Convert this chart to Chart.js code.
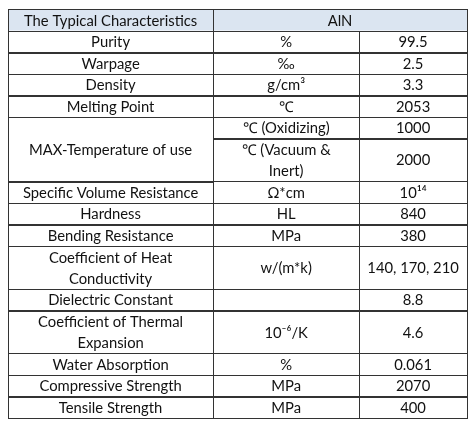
<!DOCTYPE html>
<html><head><meta charset="utf-8">
<script src="https://cdn.jsdelivr.net/npm/chart.js@4"></script>
<style>html,body{margin:0;padding:0;background:#fff}#w{width:474px;height:424px}</style>
</head><body><div id="w"><canvas id="c"></canvas></div>
<script>
const headers = ["The Typical Characteristics", "AlN"];
const propNames = [["Purity"],["Warpage"],["Density"],["Melting Point"],["MAX-Temperature of use"],["Specific Volume Resistance"],["Hardness"],["Bending Resistance"],["Coefficient of Heat","Conductivity"],["Dielectric Constant"],["Coefficient of Thermal","Expansion"],["Water Absorption"],["Compressive Strength"],["Tensile Strength"]];
const propSpans = [1,1,1,1,3,1,1,1,2,1,2,1,1,1];
const units = [["%"],["‰"],["g/cm³"],["℃"],["℃ (Oxidizing)"],["℃ (Vacuum &","Inert)"],["Ω*cm"],["HL"],["MPa"],["w/(m*k)"],[""],["10⁻⁶/K"],["%"],["MPa"],["MPa"]];
const values = [["99.5"],["2.5"],["3.3"],["2053"],["1000"],["2000"],["10¹⁴"],["840"],["380"],["140, 170, 210"],["8.8"],["4.6"],["0.061"],["2070"],["400"]];
const valueSpans = [1,1,1,1,1,2,1,1,1,2,1,2,1,1,1];
const colEdges = [0, 44.7, 76.5, 100];
const totalRows = 19;

const tablePlugin = {
  id:'table',
  afterDraw(chart){
    const {ctx, scales:{x,y}} = chart;
    const X = v=>x.getPixelForValue(v), Y = v=>y.getPixelForValue(v);
    ctx.save();
    ctx.font = '14.8px Lato';
    ctx.textAlign='center'; ctx.textBaseline='middle'; ctx.fillStyle='#111';
    ctx.strokeStyle='#333'; ctx.lineWidth=1;
    function cell(c0,c1,r0,r1,lines,bg){
      const x0=X(colEdges[c0]),x1=X(colEdges[c1]),y0=Y(r0),y1=Y(r1);
      if(bg){ctx.fillStyle=bg;ctx.fillRect(x0,y0,x1-x0,y1-y0);ctx.fillStyle='#111';}
      ctx.strokeRect(Math.round(x0)+0.5,Math.round(y0)+0.5,Math.round(x1-x0),Math.round(y1-y0));
      const lh=21, cy=(y0+y1)/2;
      lines.forEach((t,i)=>ctx.fillText(t,(x0+x1)/2,cy+(i-(lines.length-1)/2)*lh+1));
    }
    cell(0,1,0,1,[headers[0]],'#dbe5f1');
    cell(1,3,0,1,[headers[1]],'#dbe5f1');
    let r=1; propNames.forEach((n,i)=>{cell(0,1,r,r+propSpans[i],n);r+=propSpans[i];});
    r=1; units.forEach((u,i)=>{cell(1,2,r,r+valueSpans[i],u);cell(2,3,r,r+valueSpans[i],values[i]);r+=valueSpans[i];});
    ctx.restore();
  }
};
new Chart(document.getElementById('c'),{
  type:'scatter',
  data:{datasets:[{data:[]}]},
  options:{responsive:true,maintainAspectRatio:false,animation:false,
    layout:{padding:{left:8,right:7,top:9,bottom:6}},
    plugins:{legend:{display:false},tooltip:{enabled:false}},
    scales:{x:{type:'linear',min:0,max:100,display:false},
            y:{type:'linear',min:0,max:totalRows,reverse:true,display:false}}},
  plugins:[tablePlugin]
});
</script></body></html>
